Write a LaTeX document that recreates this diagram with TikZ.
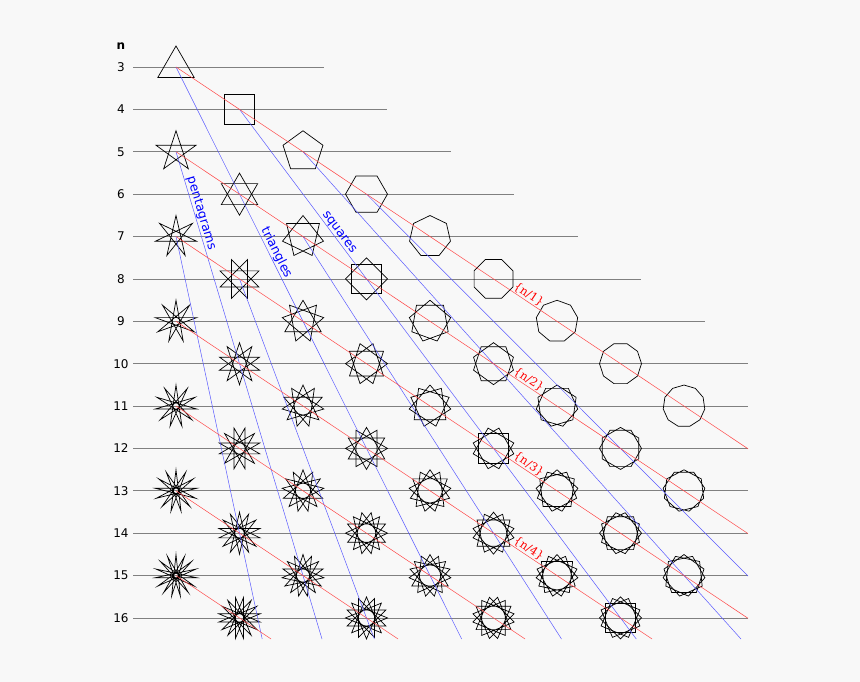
\documentclass[tikz,border=0pt]{standalone}
\usepackage{fontspec}
\setmainfont{DejaVu Sans}
\newfontfamily\ratiofont{DejaVu Serif}
\usetikzlibrary{positioning}

\definecolor{paper}{RGB}{248,248,248}
\definecolor{rulegray}{RGB}{128,128,128}
\definecolor{ratiored}{RGB}{255,70,70}
\definecolor{ratioblue}{RGB}{90,90,255}

\tikzset{
  starpoly/.style={draw=black,line width=0.7pt,line join=miter},
  ratiotext/.style={text=red,font=\ratiofont\fontsize{11.5}{13}\selectfont,sloped,above,inner sep=1pt},
  shapetext/.style={text=blue,font=\fontsize{12.5}{15}\selectfont,sloped,above,inner sep=0.5pt},
}

\begin{document}
\begin{tikzpicture}[x=1pt,y=-1pt]
  \fill[paper] (0,0) rectangle (860,682);
  \useasboundingbox (0,0) rectangle (860,682);

  % rows n = 3..16
  \begin{scope}[every node/.style={inner sep=0pt,font=\fontsize{12}{14}\selectfont}]
    \node[font=\bfseries\fontsize{12}{14}\selectfont] (head) at (121,46) {n};
    \foreach \n in {3,...,16}{
      \pgfmathsetmacro\yy{67+42.38*(\n-3)}
      \pgfmathsetmacro\xe{min(176+63.5*(\n-1)+20.5,748)}
      \node (row\n) at (121,\yy) {\n};
      \coordinate (g\n-a) at (133,\yy);
      \coordinate (g\n-b) at (\xe,\yy);
      \draw[rulegray,line width=0.8pt] (g\n-a) -- (g\n-b);
    }
  \end{scope}

  % star polygons {n/k}
  \foreach \n in {3,...,16}{
    \pgfmathtruncatemacro\kmax{(\n-1)/2}
    \foreach \k in {1,...,\kmax}{
      \pgfmathtruncatemacro\col{\n-1-2*\k}
      \ifnum\col<9
        \coordinate (s-\n-\k) at ({176+63.5*\col},{67+42.38*(\n-3)});
        \pgfmathtruncatemacro\nd{gcd(\n,\k)}
        \pgfmathtruncatemacro\nv{\n/\nd-1}
        \pgfmathsetmacro\startang{90}
        \ifodd\n\else\ifodd\k\pgfmathsetmacro\startang{90+180/\n}\fi\fi
        \foreach \j in {1,...,\nd}{
          \draw[starpoly,shift={(s-\n-\k)}] ({\startang+360/\n*(\j-1)}:21pt)
            \foreach \i in {1,...,\nv}{ -- ({\startang+360/\n*(\j-1+\i*\k)}:21pt) } -- cycle;
        }
      \fi
    }
  }

  % same shape
  \begin{scope}[every edge/.style={draw=ratioblue,line width=0.5pt}]
    \coordinate (e-7-3) at (262.2,639);
    \coordinate (e-5-2) at (322.0,639);
    \coordinate (e-8-3) at (374.4,639);
    \coordinate (e-3-1) at (461.7,639);
    \coordinate (e-7-2) at (561.5,639);
    \coordinate (e-4-1) at (636.3,639);
    \coordinate (e-5-1) at (741.0,639);
    \coordinate (e-6-1) at (748,576.1);
    \path (s-7-3) edge (e-7-3);
    \path (s-5-2) edge node[shapetext,pos=0.13] {pentagrams} (e-5-2);
    \path (s-8-3) edge (e-8-3);
    \path (s-3-1) edge node[shapetext,pos=0.33] {triangles} (e-3-1);
    \path (s-7-2) edge (e-7-2);
    \path (s-4-1) edge node[shapetext,pos=0.239] {squares} (e-4-1);
    \path (s-5-1) edge (e-5-1);
    \path (s-6-1) edge (e-6-1);
  \end{scope}

  % same k
  \begin{scope}[every edge/.style={draw=ratiored,line width=0.5pt}]
    \foreach \k/\ex/\ey in {1/748/448.8, 2/748/533.6, 3/748/618.3, 4/652.1/639,
                            5/525.1/639, 6/398.1/639, 7/271.1/639}{
      \pgfmathtruncatemacro\nn{2*\k+1}
      \coordinate (f-\k) at (\ex,\ey);
      \path (s-\nn-\k) edge (f-\k);
    }
    \foreach \k in {1,...,4}{
      \pgfmathtruncatemacro\na{2*\k+6}
      \pgfmathtruncatemacro\nb{2*\k+7}
      \path (s-\na-\k) -- (s-\nb-\k) node[midway,ratiotext] {\{n/\k\}};
    }
  \end{scope}
\end{tikzpicture}
\end{document}
